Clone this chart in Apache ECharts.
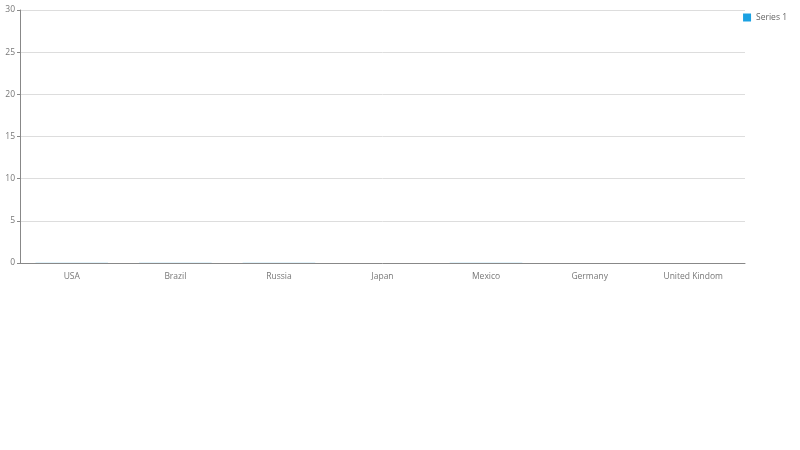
<!DOCTYPE html>
<html><head><meta charset="utf-8">
<script src="https://cdn.jsdelivr.net/npm/echarts@6/dist/echarts.min.js"></script>
<style>html,body{margin:0;padding:0;background:#fff}#c{width:800px;height:450px}</style>
</head><body><div id="c"></div>
<script>
var categories = ["USA","Brazil","Russia","Japan","Mexico","Germany","United Kindom"];
var seriesValues = [0.04, 0.04, 0.02, 0.01, 0.02, 0.01, 0.01];
var seriesName = "Series 1";
var chart = echarts.init(document.getElementById('c'));
var font = "'Open Sans', 'Noto Sans', sans-serif";
chart.setOption({
  animation: false,
  textStyle: {fontFamily: font},
  legend: {
    data: [seriesName], right: 8, top: 8, orient: 'vertical',
    itemWidth: 8, itemHeight: 8, icon: 'rect', itemGap: 4,
    itemStyle: {opacity: 1},
    textStyle: {fontSize: 8.5, color: '#666', fontFamily: font}
  },
  grid: {left: 20, right: 55, top: 10, bottom: 187, containLabel: false},
  xAxis: {
    type: 'category', data: categories,
    axisLine: {lineStyle: {color: '#888'}},
    axisTick: {lineStyle: {color: '#888'}, length: 4},
    axisLabel: {fontSize: 8.5, color: '#777', margin: 9, fontFamily: font}
  },
  yAxis: {
    type: 'value', min: 0, max: 30, interval: 5,
    axisLine: {show: true, lineStyle: {color: '#888'}},
    axisTick: {show: true, length: 3, lineStyle: {color: '#888'}},
    axisLabel: {fontSize: 8.5, color: '#777', margin: 5, fontFamily: font},
    splitLine: {lineStyle: {color: '#ddd'}}
  },
  series: [{
    name: seriesName, type: 'bar', data: seriesValues,
    barWidth: '70%',
    itemStyle: {color: '#1ba1e2', opacity: 0.5}
  }]
});
</script></body></html>
